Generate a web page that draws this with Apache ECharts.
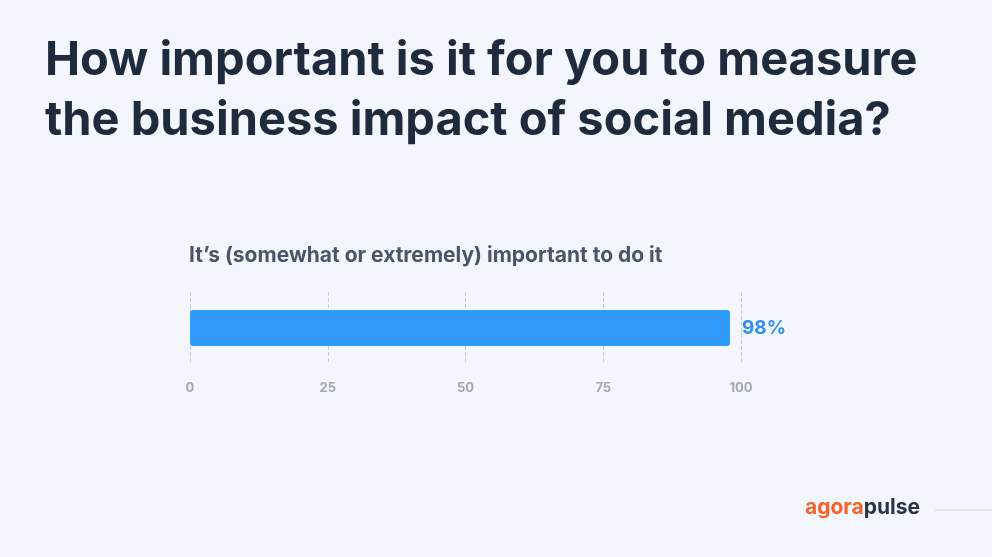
<!DOCTYPE html>
<html><head><meta charset="utf-8">
<script src="https://cdn.jsdelivr.net/npm/echarts@6/dist/echarts.min.js"></script>
<style>html,body{margin:0;padding:0;background:#f3f6fd}#c{width:992px;height:557px}</style>
</head><body><div id="c"></div>
<script>
const categories = ["It’s (somewhat or extremely) important to do it"];
const values = [98];
const ticks = [0, 25, 50, 75, 100];
const chart = echarts.init(document.getElementById('c'));
chart.setOption({
  backgroundColor: '#f3f6fd',
  animation: false,
  title: {
    text: 'How important is it for you to measure\nthe business impact of social media?',
    left: 40, top: 26,
    textStyle: {fontFamily: 'Inter', fontWeight: 'bold', fontSize: 47, color: '#1f2a3d', lineHeight: 60}
  },
  graphic: [
    {type: 'text', left: 189, top: 245, style: {text: categories[0], font: 'bold 21px Inter', fill: '#4b5567'}},
    {type: 'text', left: 805, top: 497, style: {rich: {a: {font: 'bold 21px Inter', fill: '#f4622a'}, b: {font: 'bold 21px Inter', fill: '#2b3548'}}, text: '{a|agora}{b|pulse}'}},
    {type: 'line', shape: {x1: 935, y1: 510, x2: 992, y2: 510}, style: {stroke: '#d9dee8', lineWidth: 1.5}}
  ],
  grid: {left: 190, right: 251, top: 292, bottom: 193},
  xAxis: {
    type: 'value', min: ticks[0], max: ticks[ticks.length-1], interval: 25,
    axisLine: {show: false}, axisTick: {show: false},
    splitLine: {show: true, lineStyle: {color: '#c9ccd3', type: 'dashed', width: 1}},
    axisLabel: {color: '#a3a8b3', fontFamily: 'Inter', fontWeight: 'bold', fontSize: 13, margin: 18}
  },
  yAxis: {type: 'category', data: categories, axisLine: {show: false}, axisTick: {show: false}, axisLabel: {show: false}},
  series: [{
    type: 'bar', data: values, barWidth: 36,
    itemStyle: {color: '#2f9bfa', borderRadius: 3},
    label: {show: true, position: 'right', distance: 12, formatter: '{c}%', color: '#2f8ff0', fontFamily: 'Inter', fontWeight: 'bold', fontSize: 19}
  }]
});
</script></body></html>
